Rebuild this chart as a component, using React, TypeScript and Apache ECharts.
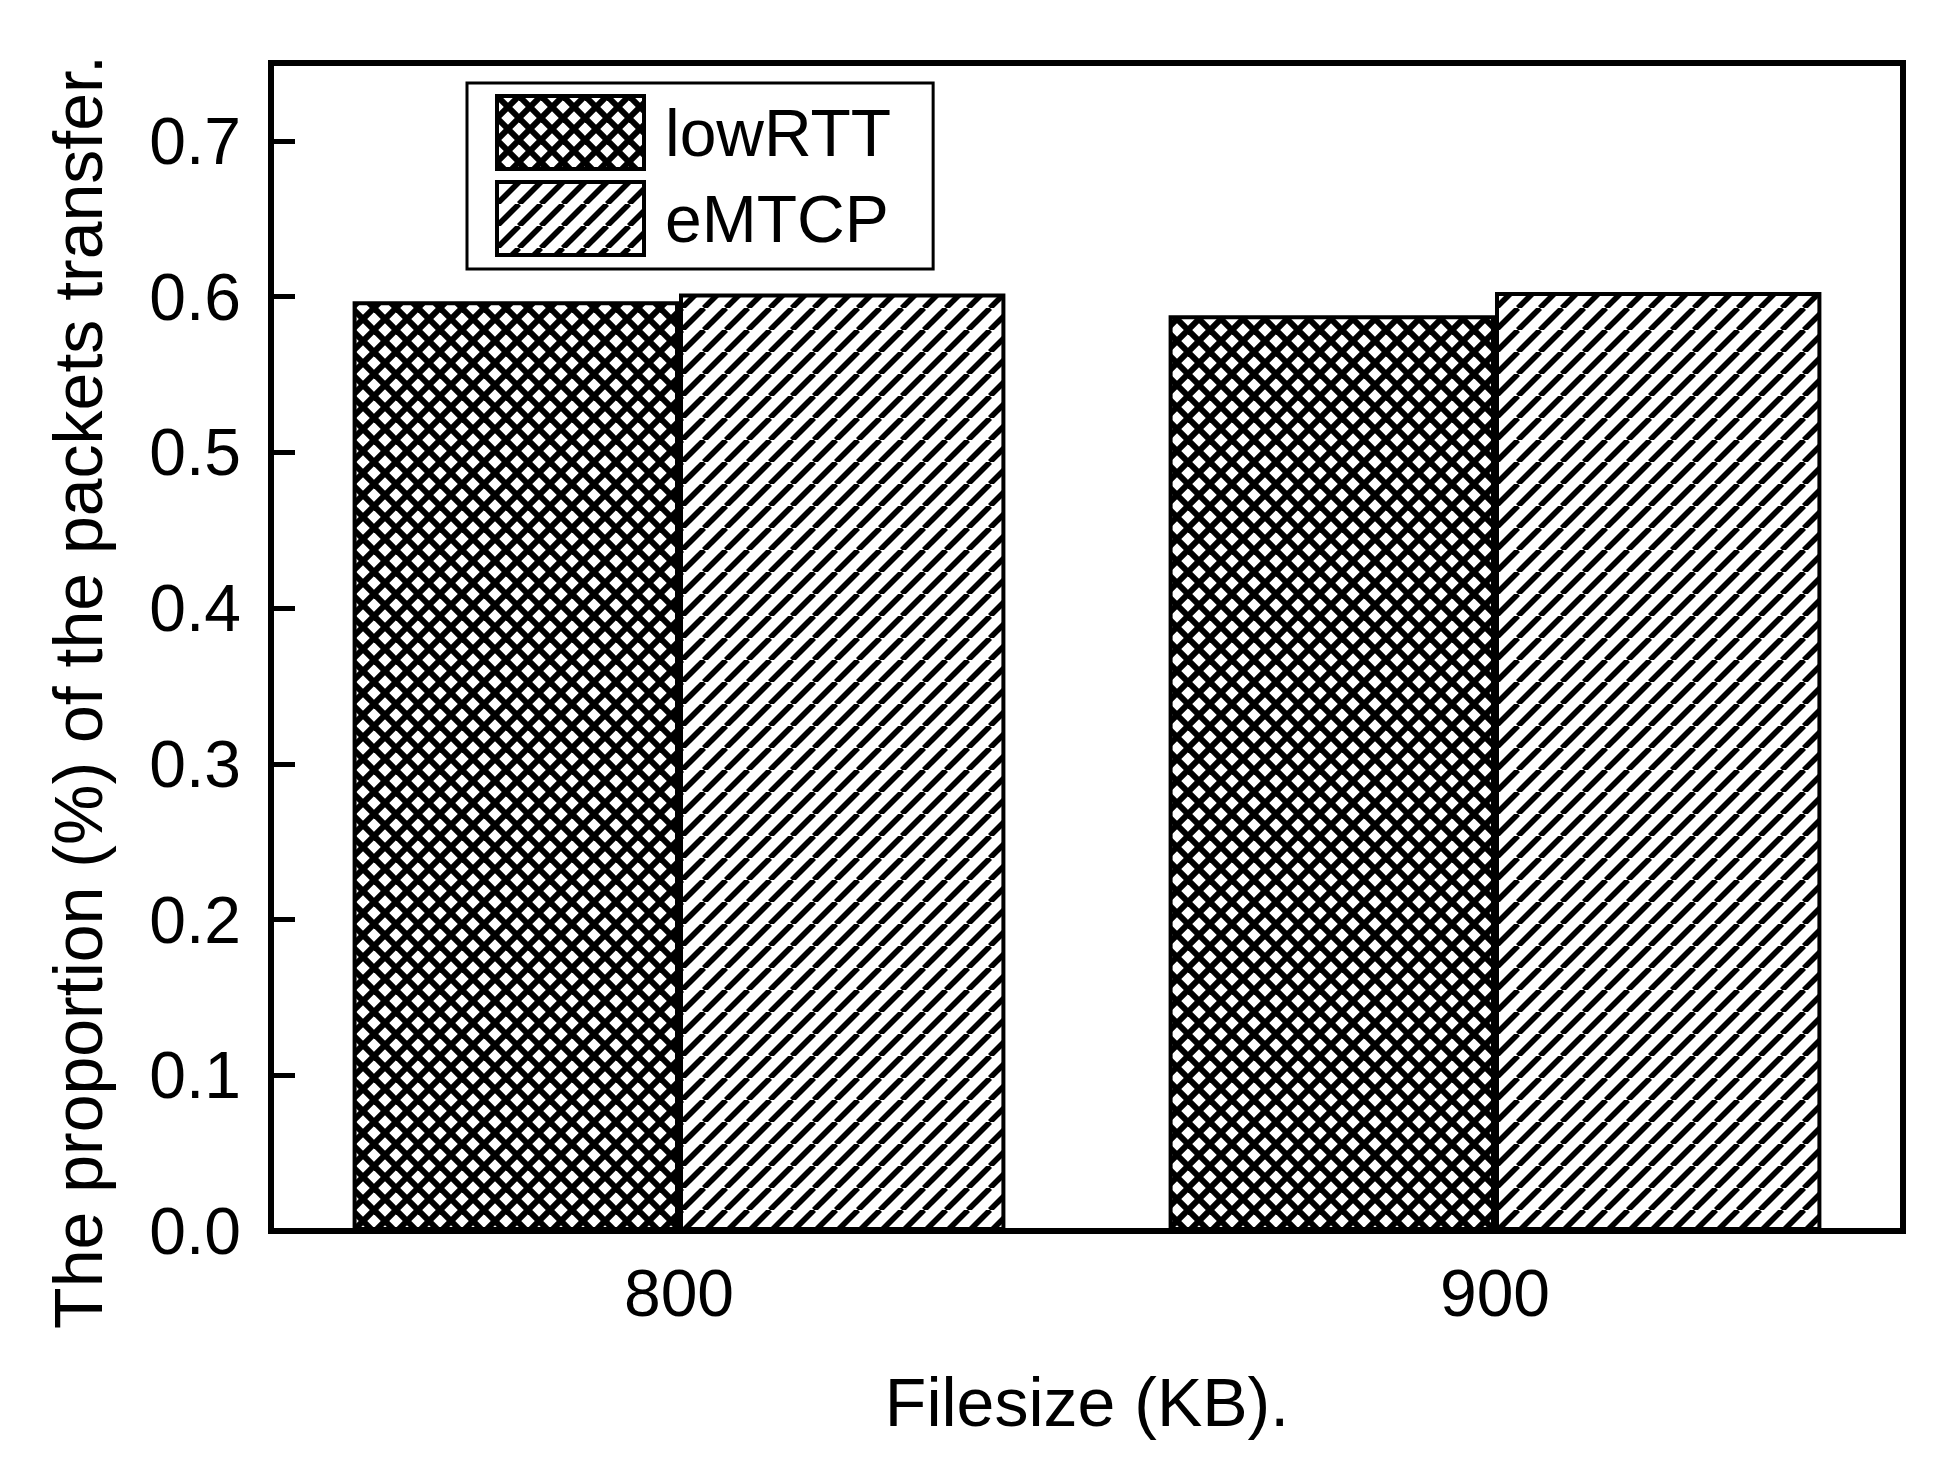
import React, { useEffect, useRef } from "react";
import * as echarts from "echarts";

const categories = ["800", "900"];
const lowRTT = [0.597, 0.588];
const eMTCP = [0.602, 0.603];
const seriesNames = ["lowRTT", "eMTCP"];
const yMin = 0;
const yMax = 0.75;
const yInterval = 0.1;

const FONT = "'Liberation Sans', Arial, Helvetica, sans-serif";

function makeHatch(cross: boolean): HTMLCanvasElement {
  const s = 22;
  const c = document.createElement("canvas");
  c.width = s;
  c.height = s;
  const g = c.getContext("2d")!;
  g.fillStyle = "#fff";
  g.fillRect(0, 0, s, s);
  g.strokeStyle = "#000";
  g.lineWidth = cross ? 6 : 5.6;
  for (let k = -1; k <= 1; k++) {
    g.beginPath();
    g.moveTo(k * s, s);
    g.lineTo(k * s + s, 0);
    g.stroke();
    if (cross) {
      g.beginPath();
      g.moveTo(k * s, 0);
      g.lineTo(k * s + s, s);
      g.stroke();
    }
  }
  return c;
}

export default function App() {
  const ref = useRef<HTMLDivElement>(null);
  useEffect(() => {
    document.body.style.margin = "0";
    if (!ref.current) return;
    const chart = echarts.init(ref.current, null, { renderer: "svg" });
    const crossPat = { image: makeHatch(true), repeat: "repeat" };
    const diagPat = { image: makeHatch(false), repeat: "repeat" };
    const option: any = {
      animation: false,
      backgroundColor: "#fff",
      grid: {
        left: 271,
        right: 53,
        top: 63,
        bottom: 234,
        show: true,
        borderColor: "#000",
        borderWidth: 6,
        backgroundColor: "transparent",
      },
      legend: {
        show: true,
        orient: "vertical",
        left: 467,
        top: 83,
        padding: [11, 42, 12, 28],
        itemWidth: 147,
        itemHeight: 73,
        itemGap: 9,
        borderColor: "#000",
        borderWidth: 3,
        icon: "rect",
        itemStyle: { borderColor: "#000", borderWidth: 4 },
        textStyle: {
          fontSize: 66,
          color: "#000",
          fontFamily: FONT,
          padding: [0, 0, 0, 16],
        },
        data: seriesNames,
      },
      xAxis: {
        type: "category",
        data: categories,
        z: 5,
        axisLine: { show: true, lineStyle: { color: "#000", width: 6 } },
        axisTick: { show: false },
        axisLabel: {
          fontSize: 66,
          color: "#000",
          fontFamily: FONT,
          margin: 29,
        },
        name: "Filesize (KB).",
        nameLocation: "middle",
        nameGap: 137,
        nameTextStyle: { fontSize: 68, color: "#000", fontFamily: FONT },
      },
      yAxis: {
        type: "value",
        min: yMin,
        max: yMax,
        interval: yInterval,
        z: 5,
        splitLine: { show: false },
        axisLine: { show: true, lineStyle: { color: "#000", width: 6 } },
        axisTick: {
          show: true,
          inside: true,
          length: 24,
          lineStyle: { color: "#000", width: 5 },
        },
        axisLabel: {
          fontSize: 66,
          color: "#000",
          fontFamily: FONT,
          margin: 30,
          formatter: (v: number) => (v > 0.71 ? "" : v.toFixed(1)),
        },
        name: "The proportion (%) of the packets transfer.",
        nameLocation: "middle",
        nameGap: 159,
        nameTextStyle: {
          fontSize: 68,
          color: "#000",
          fontFamily: FONT,
          padding: [0, 90, 0, 0],
        },
      },
      series: [
        {
          name: seriesNames[0],
          type: "bar",
          data: lowRTT,
          barGap: "0%",
          barCategoryGap: "20%",
          itemStyle: { color: crossPat, borderColor: "#000", borderWidth: 4 },
        },
        {
          name: seriesNames[1],
          type: "bar",
          data: eMTCP,
          barGap: "0%",
          barCategoryGap: "20%",
          itemStyle: { color: diagPat, borderColor: "#000", borderWidth: 4 },
        },
      ],
    };
    chart.setOption(option);
    return () => chart.dispose();
  }, []);
  return <div ref={ref} style={{ width: 1956, height: 1465 }} />;
}
